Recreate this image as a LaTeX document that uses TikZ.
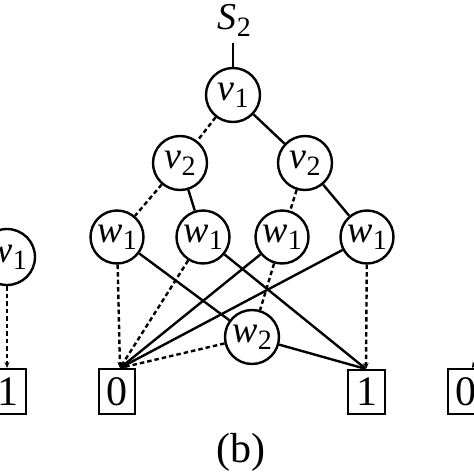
\documentclass[tikz,border=0pt]{standalone}
\usepackage{fontspec}
\setmainfont{Liberation Serif}
\usetikzlibrary{arrows.meta}
\newcommand{\nlab}[2]{{\fontsize{38}{38}\selectfont\itshape #1}\kern0.5pt\raisebox{-7pt}{\fontsize{28}{28}\selectfont #2}}
\tikzset{
  vert/.style={circle, draw, line width=2.4pt, minimum size=54pt, inner sep=0pt},
  term/.style={draw, line width=2.4pt, minimum width=36pt, minimum height=45pt, inner sep=0pt, font=\fontsize{42}{42}\selectfont},
  hi/.style={line width=2.4pt},
  lo/.style={line width=2.4pt, dash pattern=on 4.5pt off 3pt},
  tip/.style={-{Stealth[length=6pt,width=5pt]}}
}
\begin{document}
\begin{tikzpicture}[x=1pt,y=-1pt]
\useasboundingbox (0,0) rectangle (474,474);
\clip (0,0) rectangle (474,474);
% top label
\node[inner sep=0pt] (s2) at (234,20) {\nlab{S}{2}};
\coordinate (s2b) at (233,43);
% decision nodes
\node[vert] (v1) at (233,95) {\nlab{v}{1}};
\node[vert] (v2l) at (180,163) {\nlab{v}{2}};
\node[vert] (v2r) at (305,163) {\nlab{v}{2}};
\node[vert, minimum size=53pt] (wa) at (117,237) {\nlab{w}{1}};
\node[vert, minimum size=53pt] (wb) at (203,237) {\nlab{w}{1}};
\node[vert, minimum size=53pt] (wc) at (282,237) {\nlab{w}{1}};
\node[vert, minimum size=53pt] (wd) at (367,237) {\nlab{w}{1}};
\node[vert] (w2) at (252,337) {\nlab{w}{2}};
% terminals
\node[term] (t0) at (117,391.5) {0};
\node[term, minimum width=37pt, minimum height=44pt] (t1) at (366.5,392) {1};
\coordinate (c0) at (120,368);
\coordinate (c1) at (366,369);
% edges
\draw[hi] (s2b) -- (v1);
\draw[lo] (v1) -- (v2l);
\draw[hi] (v1) -- (v2r);
\draw[lo] (v2l) -- (wa);
\draw[hi] (v2l) -- (wb);
\draw[lo] (v2r) -- (wc);
\draw[hi] (v2r) -- (wd);
\draw[lo, tip] (wa) -- (c0);
\draw[hi] (wa) -- (w2);
\draw[lo, tip] (wb) -- (c0);
\draw[hi, tip] (wb) -- (c1);
\draw[hi, tip] (wc) -- (c0);
\draw[lo] (wc) -- (w2);
\draw[hi, tip] (wd) -- (c0);
\draw[lo, tip] (wd) -- (c1);
\draw[lo, tip] (w2) -- (c0);
\draw[hi, tip] (w2) -- (c1);
% left partial diagram
\node[vert, minimum size=56pt] (lw) at (7,257) {\nlab{w}{1}};
\node[term] (l1) at (8,391.5) {1};
\coordinate (lc) at (7,368);
\draw[lo, tip] (lw) -- (lc);
% right partial diagram
\node[term] (r0) at (466,391.5) {0};
\coordinate (rc) at (472,368);
\coordinate (rout) at (500,320);
\draw[hi, tip] (rout) -- (rc);
% caption
\node[inner sep=0pt, font=\fontsize{42}{42}\selectfont] (cap) at (241,452) {(b)};
\end{tikzpicture}
\end{document}
